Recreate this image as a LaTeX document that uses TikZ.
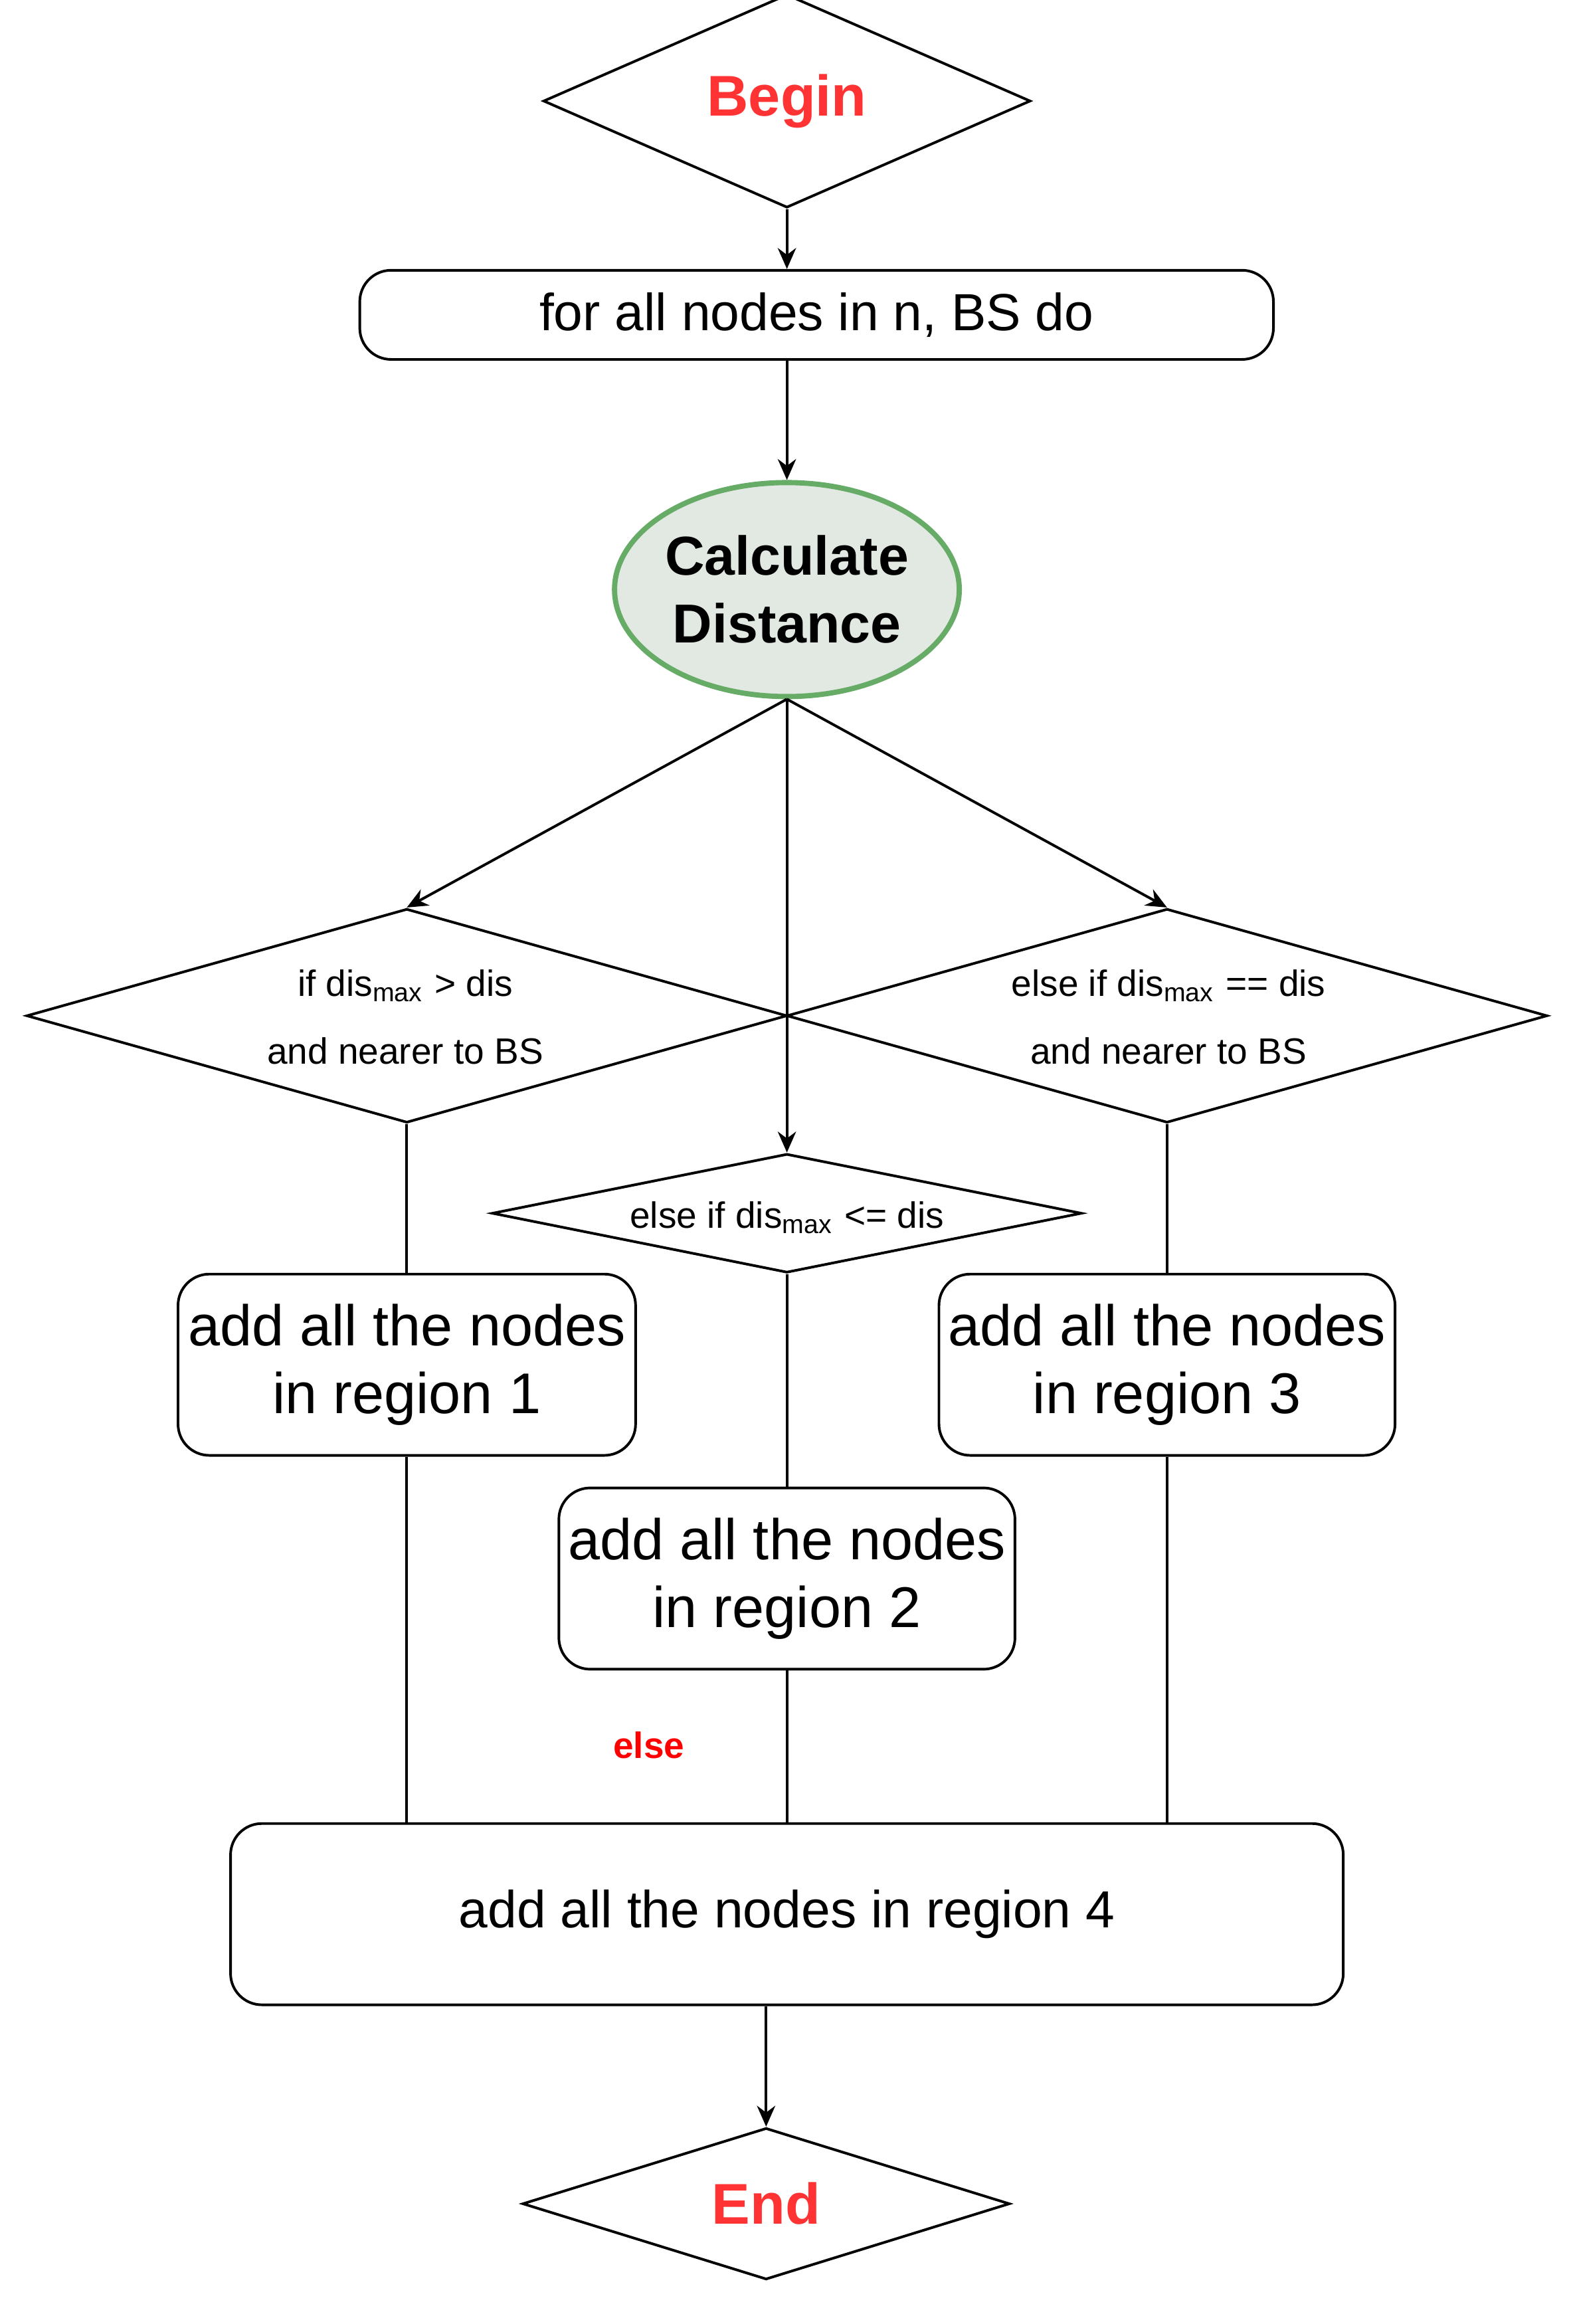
\documentclass[tikz,border=0pt]{standalone}
\usepackage{fontspec}
\setmainfont{Liberation Sans}
\usetikzlibrary{shapes.geometric,arrows.meta}
\begin{document}
\begin{tikzpicture}[x=0.01cm,y=-0.01cm,
  dia/.style={draw,diamond,inner sep=0pt,line width=0.5pt},
  box/.style={draw,rounded corners=6pt,inner sep=0pt,line width=0.5pt,align=center},
  arr/.style={-{Stealth[length=4pt,width=3.5pt]},line width=0.5pt},
  ln/.style={line width=0.5pt}]
\useasboundingbox (0,0) rectangle (1058,1565);
\node[dia,minimum width=3.28cm,minimum height=1.02cm,text=red!80!white,font=\fontsize{11}{13}\selectfont\bfseries] (b) at (530,68) {Begin};
\node[box,minimum width=6.15cm,minimum height=0.6cm,font=\fontsize{10}{12}\selectfont] (f) at (550,212) {for all nodes in n, BS do};
\node[draw=green!45!black!60,fill=green!15!gray!20,line width=1pt,ellipse,minimum width=2.06cm,minimum height=1.44cm,inner sep=0pt,align=center,font=\fontsize{10.5}{13}\selectfont\bfseries] (c) at (530,397) {Calculate\\Distance};
\node[dia,minimum width=5.12cm,minimum height=1.44cm] (ld) at (274,684) {};
\node[dia,minimum width=5.12cm,minimum height=1.44cm] (rd) at (786,684) {};
\node[dia,minimum width=3.97cm,minimum height=0.8cm] (md) at (530,817) {};
\node[align=center,font=\fontsize{7}{13}\selectfont] at (273,685) {if dis$_{\mathrm{max}}$ > dis\\and nearer to BS};
\node[align=center,font=\fontsize{7}{13}\selectfont] at (787,685) {else if dis$_{\mathrm{max}}$ == dis\\and nearer to BS};
\node[font=\fontsize{7}{9}\selectfont] at (530,820) {else if dis$_{\mathrm{max}}$ <= dis};
\node[box,minimum width=3.08cm,minimum height=1.22cm,font=\fontsize{11}{13}\selectfont] (r1) at (274,919) {add all the nodes\\in region 1};
\node[box,minimum width=3.07cm,minimum height=1.22cm,font=\fontsize{11}{13}\selectfont] (r3) at (786,919) {add all the nodes\\in region 3};
\node[box,minimum width=3.07cm,minimum height=1.22cm,font=\fontsize{11}{13}\selectfont] (r2) at (530,1063) {add all the nodes\\in region 2};
\node[box,minimum width=7.49cm,minimum height=1.22cm,font=\fontsize{10}{12}\selectfont] (r4) at (530,1289) {add all the nodes in region 4};
\node[dia,minimum width=3.28cm,minimum height=1.02cm,text=red!80!white,font=\fontsize{11}{13}\selectfont\bfseries] (e) at (516,1484) {End};
\node[text=red,font=\fontsize{7}{9}\selectfont\bfseries] (el) at (437,1175) {else};
\draw[arr] (b.south) -- (b.south |- f.north);
\draw[arr] (c.north |- f.south) -- (c.north);
\draw[arr] (c.south) -- (ld.north);
\draw[arr] (c.south) -- (rd.north);
\draw[arr] (c.south) -- (md.north);
\draw[ln] (ld.south) -- (ld.south |- r1.north);
\draw[ln] (rd.south) -- (rd.south |- r3.north);
\draw[ln] (md.south) -- (md.south |- r2.north);
\draw[ln] (r1.south) -- (r1.south |- r4.north);
\draw[ln] (r2.south) -- (r2.south |- r4.north);
\draw[ln] (r3.south) -- (r3.south |- r4.north);
\draw[arr] (e.north |- r4.south) -- (e.north);
\end{tikzpicture}
\end{document}
